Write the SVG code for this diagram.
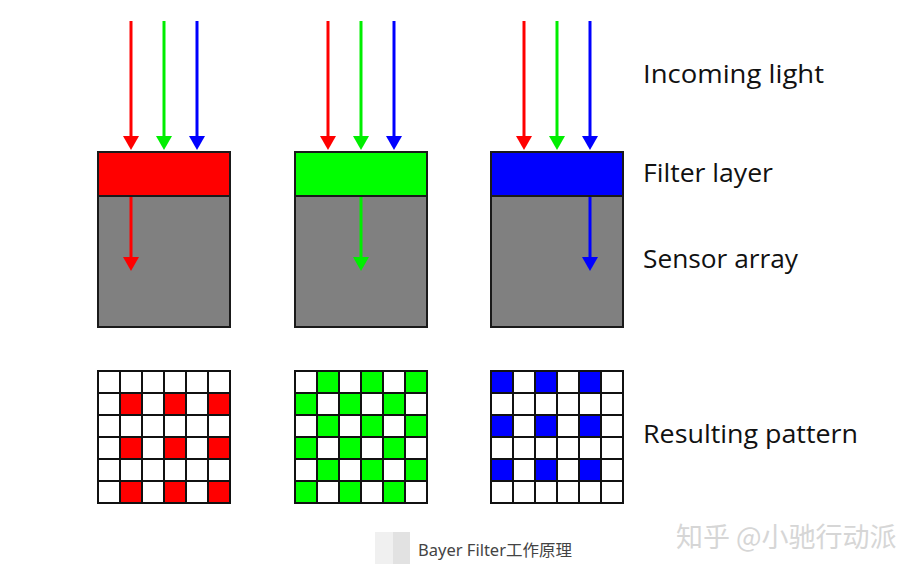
<svg xmlns="http://www.w3.org/2000/svg" width="924" height="574" viewBox="0 0 924 574">
<style>
.lbl{font-family:"Open Sans","Noto Sans",sans-serif;font-size:26px;fill:#111}
.box{stroke:#1a1a1a;stroke-width:2}
.sensor{fill:#808080}
.ar{stroke-width:3;fill:none}
.r{stroke:#ff0000}.g{stroke:#00ee00}.b{stroke:#0000ff}
.grid{fill:none;stroke:#111;stroke-width:2}
.cap{font-family:"Noto Sans","Noto Sans CJK SC",sans-serif;font-size:16px;fill:#444}
.wm{font-family:"Noto Sans CJK SC",sans-serif;font-size:27px;fill:#d6d6d6}
</style>
<defs>
<marker id="mr" markerUnits="userSpaceOnUse" markerWidth="14" markerHeight="16" refX="0" refY="8" orient="auto"><path d="M0,0 L14,8 L0,16 z" fill="#ff0000"/></marker>
<marker id="mg" markerUnits="userSpaceOnUse" markerWidth="14" markerHeight="16" refX="0" refY="8" orient="auto"><path d="M0,0 L14,8 L0,16 z" fill="#00ee00"/></marker>
<marker id="mb" markerUnits="userSpaceOnUse" markerWidth="14" markerHeight="16" refX="0" refY="8" orient="auto"><path d="M0,0 L14,8 L0,16 z" fill="#0000ff"/></marker>
</defs>
<rect width="924" height="574" fill="#fff"/>

<g id="red-filter">
<rect class="box sensor" x="98" y="196" width="132" height="131"/>
<rect class="box" x="98" y="152" width="132" height="44" fill="#ff0000"/>
</g>
<g id="green-filter">
<rect class="box sensor" x="295" y="196" width="132" height="131"/>
<rect class="box" x="295" y="152" width="132" height="44" fill="#00ff00"/>
</g>
<g id="blue-filter">
<rect class="box sensor" x="491" y="196" width="132" height="131"/>
<rect class="box" x="491" y="152" width="132" height="44" fill="#0000ff"/>
</g>

<g id="connectors">
<line class="ar r" x1="131" y1="21" x2="131" y2="136" marker-end="url(#mr)"/>
<line class="ar g" x1="164" y1="21" x2="164" y2="136" marker-end="url(#mg)"/>
<line class="ar b" x1="197" y1="21" x2="197" y2="136" marker-end="url(#mb)"/>
<line class="ar r" x1="328" y1="21" x2="328" y2="136" marker-end="url(#mr)"/>
<line class="ar g" x1="361" y1="21" x2="361" y2="136" marker-end="url(#mg)"/>
<line class="ar b" x1="394" y1="21" x2="394" y2="136" marker-end="url(#mb)"/>
<line class="ar r" x1="524" y1="21" x2="524" y2="136" marker-end="url(#mr)"/>
<line class="ar g" x1="557" y1="21" x2="557" y2="136" marker-end="url(#mg)"/>
<line class="ar b" x1="590" y1="21" x2="590" y2="136" marker-end="url(#mb)"/>
<line class="ar r" x1="131" y1="197" x2="131" y2="257" marker-end="url(#mr)"/>
<line class="ar g" x1="361" y1="197" x2="361" y2="257" marker-end="url(#mg)"/>
<line class="ar b" x1="590" y1="197" x2="590" y2="257" marker-end="url(#mb)"/>
</g>

<g id="red-grid">
<rect x="98" y="371" width="132" height="132" fill="#fff"/>
<g fill="#ff0000">
<rect x="120" y="393" width="22" height="22"/><rect x="164" y="393" width="22" height="22"/><rect x="208" y="393" width="22" height="22"/>
<rect x="120" y="437" width="22" height="22"/><rect x="164" y="437" width="22" height="22"/><rect x="208" y="437" width="22" height="22"/>
<rect x="120" y="481" width="22" height="22"/><rect x="164" y="481" width="22" height="22"/><rect x="208" y="481" width="22" height="22"/>
</g>
<path class="grid" d="M120,371V503M142,371V503M164,371V503M186,371V503M208,371V503M98,393H230M98,415H230M98,437H230M98,459H230M98,481H230"/>
<rect class="grid" x="98" y="371" width="132" height="132"/>
</g>

<g id="green-grid">
<rect x="295" y="371" width="132" height="132" fill="#fff"/>
<g fill="#00ff00">
<rect x="317" y="371" width="22" height="22"/><rect x="361" y="371" width="22" height="22"/><rect x="405" y="371" width="22" height="22"/>
<rect x="295" y="393" width="22" height="22"/><rect x="339" y="393" width="22" height="22"/><rect x="383" y="393" width="22" height="22"/>
<rect x="317" y="415" width="22" height="22"/><rect x="361" y="415" width="22" height="22"/><rect x="405" y="415" width="22" height="22"/>
<rect x="295" y="437" width="22" height="22"/><rect x="339" y="437" width="22" height="22"/><rect x="383" y="437" width="22" height="22"/>
<rect x="317" y="459" width="22" height="22"/><rect x="361" y="459" width="22" height="22"/><rect x="405" y="459" width="22" height="22"/>
<rect x="295" y="481" width="22" height="22"/><rect x="339" y="481" width="22" height="22"/><rect x="383" y="481" width="22" height="22"/>
</g>
<path class="grid" d="M317,371V503M339,371V503M361,371V503M383,371V503M405,371V503M295,393H427M295,415H427M295,437H427M295,459H427M295,481H427"/>
<rect class="grid" x="295" y="371" width="132" height="132"/>
</g>

<g id="blue-grid">
<rect x="491" y="371" width="132" height="132" fill="#fff"/>
<g fill="#0000ff">
<rect x="491" y="371" width="22" height="22"/><rect x="535" y="371" width="22" height="22"/><rect x="579" y="371" width="22" height="22"/>
<rect x="491" y="415" width="22" height="22"/><rect x="535" y="415" width="22" height="22"/><rect x="579" y="415" width="22" height="22"/>
<rect x="491" y="459" width="22" height="22"/><rect x="535" y="459" width="22" height="22"/><rect x="579" y="459" width="22" height="22"/>
</g>
<path class="grid" d="M513,371V503M535,371V503M557,371V503M579,371V503M601,371V503M491,393H623M491,415H623M491,437H623M491,459H623M491,481H623"/>
<rect class="grid" x="491" y="371" width="132" height="132"/>
</g>

<g id="labels">
<text class="lbl" x="643" y="83" textLength="181" lengthAdjust="spacingAndGlyphs">Incoming light</text>
<text class="lbl" x="643" y="182" textLength="130" lengthAdjust="spacingAndGlyphs">Filter layer</text>
<text class="lbl" x="643" y="268" textLength="155" lengthAdjust="spacingAndGlyphs">Sensor array</text>
<text class="lbl" x="643" y="443" textLength="215" lengthAdjust="spacingAndGlyphs">Resulting pattern</text>
</g>

<g id="caption">
<rect x="375" y="532" width="18" height="32" fill="#f0f0f0"/>
<rect x="393" y="532" width="17" height="32" fill="#e2e2e2"/>
<text class="cap" x="418" y="556" textLength="154" lengthAdjust="spacingAndGlyphs">Bayer Filter工作原理</text>
</g>
<g id="watermark">
<text class="wm" x="676" y="547">知乎 @小驰行动派</text>
</g>
</svg>
